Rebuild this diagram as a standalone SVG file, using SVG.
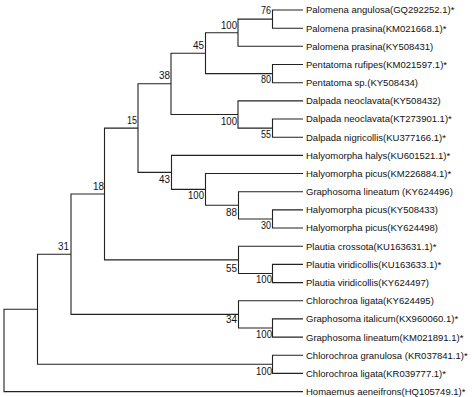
<svg xmlns="http://www.w3.org/2000/svg" width="474" height="397" viewBox="0 0 474 397">
<style>
.br{fill:none;stroke:#222;stroke-width:1.1}
.lf{font-family:"Liberation Sans",Arial,sans-serif;font-size:9.5px;fill:#111}
.bs{font-family:"Liberation Sans",Arial,sans-serif;font-size:11.5px;fill:#111;text-anchor:end}
</style>
<rect width="474" height="397" fill="#fff"/>
<g id="connectors">
<path class="br" d="M303 10 H272.5 V28.2 H303"/>
<path class="br" d="M272.5 19.1 H238 V46.3 H303"/>
<path class="br" d="M303 64.5 H272.5 V82.7 H303"/>
<path class="br" d="M238 32.7 H205.5 V73.6 H272.5"/>
<path class="br" d="M303 119 H272.5 V137.2 H303"/>
<path class="br" d="M303 100.9 H238 V128.1 H272.5"/>
<path class="br" d="M205.5 53.2 H171 V114.5 H238"/>
<path class="br" d="M303 209.9 H272.5 V228 H303"/>
<path class="br" d="M303 191.7 H238.5 V219 H272.5"/>
<path class="br" d="M303 173.5 H205.5 V205.3 H238.5"/>
<path class="br" d="M303 155.4 H171.5 V189.4 H205.5"/>
<path class="br" d="M171 83.8 H138 V172.4 H171.5"/>
<path class="br" d="M303 264.4 H272.5 V282.6 H303"/>
<path class="br" d="M303 246.2 H238.5 V273.5 H272.5"/>
<path class="br" d="M138 128.1 H104.5 V259.9 H238.5"/>
<path class="br" d="M303 318.9 H272.5 V337.1 H303"/>
<path class="br" d="M303 300.7 H238.5 V328 H272.5"/>
<path class="br" d="M104.5 194 H71 V314.4 H238.5"/>
<path class="br" d="M303 355.2 H272.5 V373.4 H303"/>
<path class="br" d="M71 254.2 H37.5 V364.3 H272.5"/>
<path class="br" d="M37.5 309.3 H4 V391.6 H303"/>
</g>
<g id="support">
<g id="n76"><text class="bs" x="271" y="14" textLength="10" lengthAdjust="spacingAndGlyphs">76</text></g>
<g id="nPal100"><text class="bs" x="237" y="29" textLength="16" lengthAdjust="spacingAndGlyphs">100</text></g>
<g id="n45"><text class="bs" x="204" y="49" textLength="11" lengthAdjust="spacingAndGlyphs">45</text></g>
<g id="n38"><text class="bs" x="170" y="79" textLength="11" lengthAdjust="spacingAndGlyphs">38</text></g>
<g id="n80"><text class="bs" x="271" y="83" textLength="10" lengthAdjust="spacingAndGlyphs">80</text></g>
<g id="nDal100"><text class="bs" x="237" y="125" textLength="16" lengthAdjust="spacingAndGlyphs">100</text></g>
<g id="n15"><text class="bs" x="137" y="124" textLength="10" lengthAdjust="spacingAndGlyphs">15</text></g>
<g id="nDal55"><text class="bs" x="271" y="138" textLength="10" lengthAdjust="spacingAndGlyphs">55</text></g>
<g id="n43"><text class="bs" x="170" y="183" textLength="11" lengthAdjust="spacingAndGlyphs">43</text></g>
<g id="n18"><text class="bs" x="104" y="190" textLength="11" lengthAdjust="spacingAndGlyphs">18</text></g>
<g id="nHal100"><text class="bs" x="204" y="199" textLength="16" lengthAdjust="spacingAndGlyphs">100</text></g>
<g id="n88"><text class="bs" x="237" y="216" textLength="11" lengthAdjust="spacingAndGlyphs">88</text></g>
<g id="n30"><text class="bs" x="271" y="229" textLength="10" lengthAdjust="spacingAndGlyphs">30</text></g>
<g id="n31"><text class="bs" x="69" y="250" textLength="11" lengthAdjust="spacingAndGlyphs">31</text></g>
<g id="nPl55"><text class="bs" x="237" y="272" textLength="11" lengthAdjust="spacingAndGlyphs">55</text></g>
<g id="nPl100"><text class="bs" x="272" y="283" textLength="16" lengthAdjust="spacingAndGlyphs">100</text></g>
<g id="n34"><text class="bs" x="237" y="323" textLength="11" lengthAdjust="spacingAndGlyphs">34</text></g>
<g id="nGr100"><text class="bs" x="272" y="338" textLength="16" lengthAdjust="spacingAndGlyphs">100</text></g>
<g id="nCh100"><text class="bs" x="272" y="375" textLength="16" lengthAdjust="spacingAndGlyphs">100</text></g>
</g>
<g id="leaves">
<g id="leaf1"><text class="lf" x="306" y="13.4">Palomena angulosa(GQ292252.1)*</text></g>
<g id="leaf2"><text class="lf" x="306" y="31.6">Palomena prasina(KM021668.1)*</text></g>
<g id="leaf3"><text class="lf" x="306" y="49.7">Palomena prasina(KY508431)</text></g>
<g id="leaf4"><text class="lf" x="306" y="67.9">Pentatoma rufipes(KM021597.1)*</text></g>
<g id="leaf5"><text class="lf" x="306" y="86.1">Pentatoma sp.(KY508434)</text></g>
<g id="leaf6"><text class="lf" x="306" y="104.3">Dalpada neoclavata(KY508432)</text></g>
<g id="leaf7"><text class="lf" x="306" y="122.4">Dalpada neoclavata(KT273901.1)*</text></g>
<g id="leaf8"><text class="lf" x="306" y="140.6">Dalpada nigricollis(KU377166.1)*</text></g>
<g id="leaf9"><text class="lf" x="306" y="158.8">Halyomorpha halys(KU601521.1)*</text></g>
<g id="leaf10"><text class="lf" x="306" y="176.9">Halyomorpha picus(KM226884.1)*</text></g>
<g id="leaf11"><text class="lf" x="306" y="195.1">Graphosoma lineatum (KY624496)</text></g>
<g id="leaf12"><text class="lf" x="306" y="213.3">Halyomorpha picus(KY508433)</text></g>
<g id="leaf13"><text class="lf" x="306" y="231.4">Halyomorpha picus(KY624498)</text></g>
<g id="leaf14"><text class="lf" x="306" y="249.6">Plautia crossota(KU163631.1)*</text></g>
<g id="leaf15"><text class="lf" x="306" y="267.8">Plautia viridicollis(KU163633.1)*</text></g>
<g id="leaf16"><text class="lf" x="306" y="286">Plautia viridicollis(KY624497)</text></g>
<g id="leaf17"><text class="lf" x="306" y="304.1">Chlorochroa ligata(KY624495)</text></g>
<g id="leaf18"><text class="lf" x="306" y="322.3">Graphosoma italicum(KX960060.1)*</text></g>
<g id="leaf19"><text class="lf" x="306" y="340.5">Graphosoma lineatum(KM021891.1)*</text></g>
<g id="leaf20"><text class="lf" x="306" y="358.6">Chlorochroa granulosa (KR037841.1)*</text></g>
<g id="leaf21"><text class="lf" x="306" y="376.8">Chlorochroa ligata(KR039777.1)*</text></g>
<g id="leaf22"><text class="lf" x="306" y="395">Homaemus aeneifrons(HQ105749.1)*</text></g>
</g>
</svg>
